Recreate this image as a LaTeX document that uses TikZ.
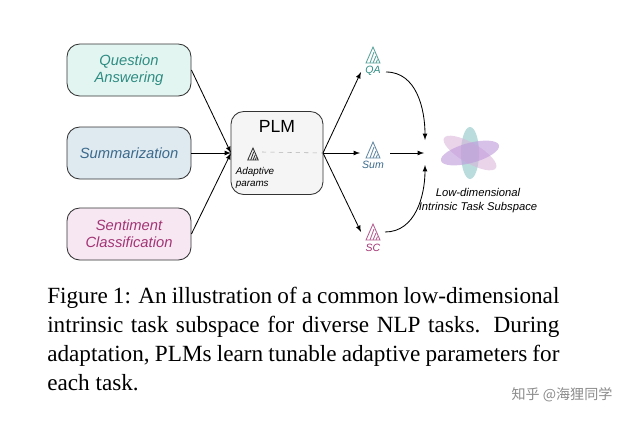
\documentclass[tikz,border=0pt]{standalone}
\usepackage{fontspec}
\setmainfont{Liberation Serif}
\setsansfont{Liberation Sans}
\newfontfamily\cjk{Noto Sans CJK SC}
\definecolor{qaC}{HTML}{2E8C82}
\definecolor{qaF}{HTML}{E3F5F1}
\definecolor{smC}{HTML}{3B6A8C}
\definecolor{smF}{HTML}{DEE9F0}
\definecolor{scC}{HTML}{A33574}
\definecolor{scF}{HTML}{F6E7F3}
\begin{document}
\begin{tikzpicture}[x=0.025cm,y=-0.025cm,
  task/.style={draw=black!80,semithick,rounded corners=9pt,minimum width=124*0.025cm,minimum height=52*0.025cm,align=center,font=\sffamily\itshape\fontsize{10.5}{12}\selectfont},
  arr/.style={-latex,semithick},
  lab/.style={font=\sffamily\itshape\fontsize{7}{8}\selectfont}]
\useasboundingbox (0,0) rectangle (623,422);
\fill[white] (0,0) rectangle (623,422);
\newcommand\hatchtri[2]{%
  \begin{scope}[shift={#1},#2,semithick]
    \draw (-7,8) -- (0,-8) -- (7,8) -- cycle;
    \draw (-3,8) -- (1,-3); \draw (0,8) -- (3,1); \draw (3,8) -- (4.5,4.5);
  \end{scope}}
\node[task,fill=qaF,text=qaC] (qa) at (129,70) {Question\\Answering};
\node[task,fill=smF,text=smC] (sm) at (129,153) {Summarization};
\node[task,fill=scF,text=scC] (sc) at (129,234) {Sentiment\\Classification};
\node[draw=black!80,semithick,rounded corners=9pt,fill=black!4,minimum width=92*0.025cm,minimum height=83*0.025cm] (plm) at (277,153) {};
\node[font=\sffamily\fontsize{12.5}{14}\selectfont] at (277,126) {PLM};
\coordinate (pin) at (231,153);
\coordinate (pout) at (323,153);
\draw[dashed,black!30] (262,152) -- (pout);
\hatchtri{(253,154)}{black!80,scale=0.75}
\node[lab,align=left] at (255,178) {Adaptive\\params};
\draw[arr] (qa.east) -- (pin);
\draw[arr] (sm.east) -- (pin);
\draw[arr] (sc.east) -- (pin);
\hatchtri{(373,55)}{qaC!80}
\hatchtri{(373,150)}{smC!80}
\hatchtri{(373,232)}{scC!80}
\node[lab,text=qaC,font=\sffamily\itshape\fontsize{7.5}{8}\selectfont] (tqa) at (373,71) {QA};
\node[lab,text=smC,font=\sffamily\itshape\fontsize{7.5}{8}\selectfont] (tsm) at (373,165) {Sum};
\node[lab,text=scC,font=\sffamily\itshape\fontsize{7.5}{8}\selectfont] (tsc) at (373,248) {SC};
\coordinate (aqa) at (361,72);
\coordinate (asm) at (360,153);
\coordinate (asc) at (361,232);
\draw[arr] (pout) -- (aqa);
\draw[arr] (pout) -- (asm);
\draw[arr] (pout) -- (asc);
\coordinate (bt) at (425,140);
\coordinate (bm) at (424,153);
\coordinate (bb) at (425,165);
\draw[arr] (386,72) to[out=0,in=90] (bt);
\draw[arr] (390,153) -- (bm);
\draw[arr] (385,232) to[out=0,in=-90] (bb);
\begin{scope}[shift={(470,153)}]
  \fill[teal!45,opacity=0.6] (0,0) ellipse (9 and 26);
  \fill[violet!30,opacity=0.55,rotate=-30] (0,0) ellipse (30 and 10);
  \fill[blue!30!violet!40,opacity=0.6,rotate=15] (0,0) ellipse (30 and 10);
\end{scope}
\node[lab,font=\sffamily\itshape\fontsize{8}{10}\selectfont,align=center] at (478,201) {Low-dimensional\\Intrinsic Task Subspace};
\node[anchor=north west,inner sep=0pt,text width=12.8cm,align=justify,font=\fontsize{16.5}{20.6}\selectfont] at (47,287) {Figure 1: An illustration of a common low-dimensional intrinsic task subspace for diverse NLP tasks. During adaptation, PLMs learn tunable adaptive parameters for each task.};
\node[text=black!45,font=\cjk\fontsize{10}{12}\selectfont] at (562,395) {知乎 @海狸同学};
\end{tikzpicture}
\end{document}
